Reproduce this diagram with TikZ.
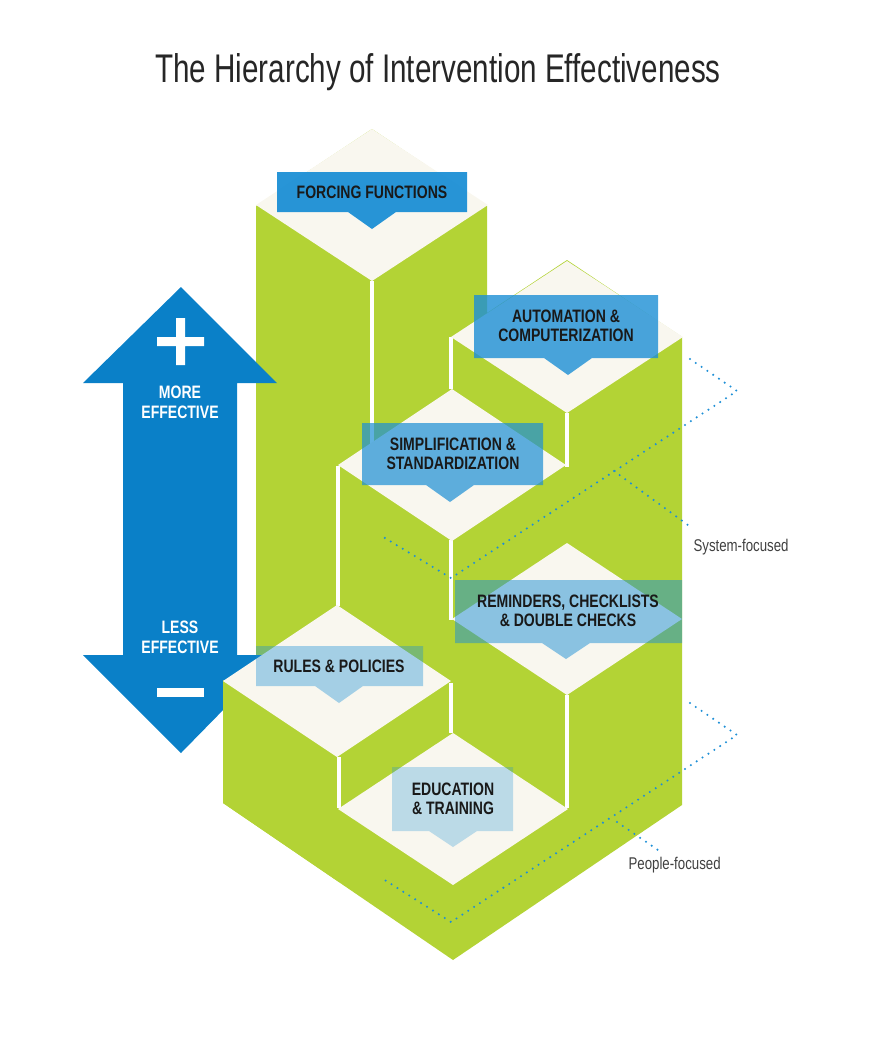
\documentclass[tikz,border=0pt]{standalone}
\usepackage{fontspec}
\setmainfont{Liberation Sans}
\newfontfamily\labf[FakeStretch=0.78]{Liberation Sans}
\newfontfamily\titf[FakeStretch=0.74]{Liberation Sans}
\definecolor{grn}{HTML}{B3D335}
\definecolor{crm}{HTML}{F9F7EF}
\definecolor{arr}{HTML}{0A80C8}
\definecolor{lab}{HTML}{1C8FD5}
\definecolor{dot}{HTML}{1E8FD6}
\tikzset{
 gap/.style={white,line width=4pt},
 top/.style={fill=crm},
 labtxt/.style={font=\labf\bfseries\fontsize{18}{19}\selectfont,text=black!90,align=center},
 arrtxt/.style={font=\labf\bfseries\fontsize{18}{20}\selectfont,text=white,align=center},
 dots/.style={dot,line width=2.3pt,line cap=round,dash pattern=on 0pt off 7pt},
 side/.style={font=\labf\fontsize{17}{18}\selectfont,text=black!75,anchor=west}
}
\newcommand\topface[3]{\fill[top] (#1,#2) -- ++(#3,76) -- ++(-#3,76) -- ++(-#3,-76) -- cycle;}
\newcommand\labbox[8]{% x1 y1 x2 y2 xc tip opacity
 \fill[lab,fill opacity=#7] (#1,#2) -- (#3,#2) -- (#3,#4) -- (#5+24,#4) -- (#5,#6) -- (#5-24,#4) -- (#1,#4) -- cycle;}
\begin{document}
\begin{tikzpicture}[x=1pt,y=-1pt]
\useasboundingbox (0,0) rectangle (869,1037);
\node (title) at (438,72) {\titf\fontsize{40}{42}\selectfont\color{black!85}The Hierarchy of Intervention Effectiveness};
% green silhouette
\fill[grn] (256,206) -- (372,129) -- (487,206) -- (487,313) -- (567,260) -- (682,337) -- (682,805) -- (453,960) -- (223,803) -- (223,680) -- (256,658) -- cycle;
% arrow
\fill[arr] (181,287) -- (277,383) -- (237,383) -- (237,655) -- (277,655) -- (181,753) -- (83,655) -- (123,655) -- (123,383) -- (83,383) -- cycle;
\fill[white!97!crm] (157,337) rectangle (204,346) (176,318) rectangle (185,365);
\fill[white!97!crm] (157,688) rectangle (204,697);
\node[arrtxt] (more) at (180,402) {MORE\\EFFECTIVE};
\node[arrtxt] (less) at (180,637) {LESS\\EFFECTIVE};
% P column in front of arrow
\fill[grn] (223,680) -- (339,757) -- (339,882) -- (223,803) -- cycle;
% gaps
\draw[gap] (372,281) -- (372,446);
\draw[gap] (451,337) -- (451,389);
\draw[gap] (567,413) -- (567,467);
\draw[gap] (338,466) -- (338,606);
\draw[gap] (451,540) -- (451,620);
\draw[gap] (567,695) -- (567,808);
\draw[gap] (339,757) -- (339,808);
\draw[gap] (451,683) -- (451,733);
% top faces
\topface{372}{129}{116}
\topface{567}{261}{116}
\topface{452}{389}{114}
\topface{567}{543}{115}
\topface{337}{605}{114}
\topface{453}{733}{115}
% labels
\labbox{277}{172}{467}{212}{372}{229}{0.95}{}
\node[labtxt] (ff) at (372,192) {FORCING FUNCTIONS};
\labbox{474}{295}{658}{358}{568}{375}{0.8}{}
\node[labtxt] (ac) at (566,326) {AUTOMATION \&\\COMPUTERIZATION};
\labbox{362}{423}{543}{485}{450}{502}{0.7}{}
\node[labtxt] (ss) at (453,454) {SIMPLIFICATION \&\\STANDARDIZATION};
\labbox{455}{580}{682}{643}{566}{659}{0.5}{}
\node[labtxt] (rc) at (568,611) {REMINDERS, CHECKLISTS\\\& DOUBLE CHECKS};
\labbox{256}{646}{423}{686}{339}{703}{0.38}{}
\node[labtxt] (rp) at (339,666) {RULES \& POLICIES};
\labbox{392}{767}{513}{831}{453}{847}{0.28}{}
\node[labtxt] (et) at (453,799) {EDUCATION\\\& TRAINING};
% brackets
\coordinate (s1) at (690,359); \coordinate (s2) at (737,391); \coordinate (s3) at (451,578); \coordinate (s4) at (380,535);
\coordinate (st1) at (614,471); \coordinate (st2) at (692,528);
\draw[dots] (s1) -- (s2) -- (s3) -- (s4);
\draw[dots] (st1) -- (st2);
\node[side] (sys) at (690,547) {System-focused};
\coordinate (p1) at (690,703); \coordinate (p2) at (737,735); \coordinate (p3) at (451,922); \coordinate (p4) at (380,877);
\coordinate (pt1) at (617,822); \coordinate (pt2) at (658,850);
\draw[dots] (p1) -- (p2) -- (p3) -- (p4);
\draw[dots] (pt1) -- (pt2);
\node[side] (ppl) at (625,865) {People-focused};
\end{tikzpicture}
\end{document}
